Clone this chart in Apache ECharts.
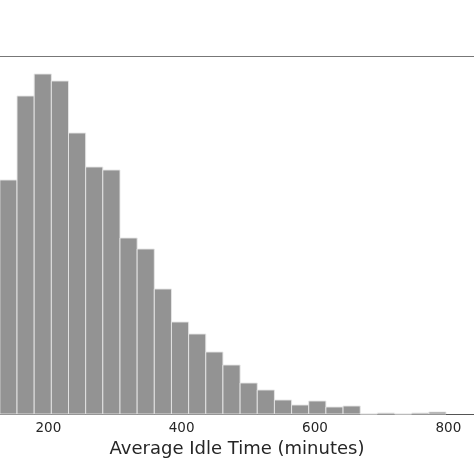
<!DOCTYPE html>
<html>
<head>
<meta charset="utf-8">
<script src="https://cdn.jsdelivr.net/npm/echarts@6/dist/echarts.min.js"></script>
<style>html,body{margin:0;padding:0;background:#fff}#c{width:474px;height:474px}</style>
</head>
<body>
<div id="c"></div>
<script>
// Histogram bins (minutes): first bin start and equal bin width
const binStart = 127.3;
const binWidth = 25.74;
// Counts per bin
const counts = [234, 318, 340, 333, 281, 247, 244, 176, 165, 125, 92, 80, 62, 49, 31, 24, 14, 9, 13, 7, 8, 0, 1, 0, 1, 2];
const tickLabels = [200, 400, 600, 800];
const xTitle = 'Average Idle Time (minutes)';

const bins = counts.map((c, i) => [binStart + i * binWidth, binStart + (i + 1) * binWidth, c]);

const chart = echarts.init(document.getElementById('c'), null, {renderer: 'canvas'});
chart.setOption({
  animation: false,
  backgroundColor: '#ffffff',
  grid: {left: 0, right: 0, top: 56, bottom: 60, containLabel: false},
  xAxis: [{
    type: 'value', min: 127.5, max: 838.5,
    axisLine: {show: true, onZero: false, lineStyle: {color: '#555', width: 1.2}},
    axisTick: {show: false},
    splitLine: {show: false},
    axisLabel: {customValues: tickLabels, color: '#262626', fontSize: 13.5, fontFamily: 'DejaVu Sans', margin: 7},
    name: xTitle, nameLocation: 'middle', nameGap: 24,
    nameTextStyle: {color: '#262626', fontSize: 18, fontFamily: 'DejaVu Sans'}
  }, {
    type: 'value', position: 'top', min: 127.5, max: 838.5,
    axisLine: {show: true, onZero: false, lineStyle: {color: '#777', width: 1.2}},
    axisTick: {show: false}, axisLabel: {show: false}, splitLine: {show: false}
  }],
  yAxis: {type: 'value', min: 0, max: 358, show: false},
  series: [{
    type: 'custom',
    xAxisIndex: 0,
    data: bins,
    encode: {x: [0, 1], y: 2},
    renderItem: function (params, api) {
      const p0 = api.coord([api.value(0), 0]);
      const p1 = api.coord([api.value(1), api.value(2)]);
      return {
        type: 'rect',
        shape: {x: p0[0], y: p1[1], width: p1[0] - p0[0], height: p0[1] - p1[1]},
        style: {fill: '#939393', stroke: '#e6e6e6', lineWidth: 0.9}
      };
    }
  }]
});
</script>
</body>
</html>
